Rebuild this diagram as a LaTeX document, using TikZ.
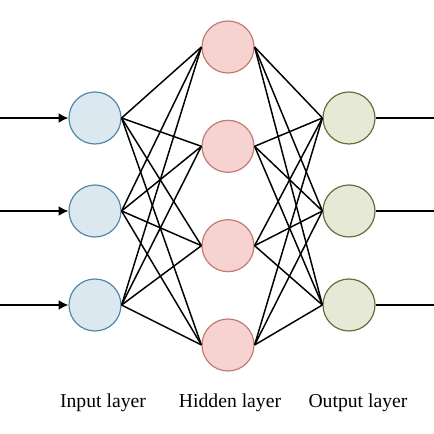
\documentclass[tikz,border=0pt]{standalone}
\usepackage{fontspec}
\setmainfont{Liberation Serif}
\usepackage{tikz}
\usetikzlibrary{arrows.meta}

\definecolor{infill}{HTML}{DCE8F0}
\definecolor{inline}{HTML}{5088A6}
\definecolor{hidfill}{HTML}{F6D3D1}
\definecolor{hidline}{HTML}{C27A74}
\definecolor{outfill}{HTML}{E6E9D6}
\definecolor{outline}{HTML}{6A6B38}

\tikzset{
    neuron/.style={shape=circle, minimum size=1.3cm, inner sep=0pt, line width=0.85pt},
    inneuron/.style={neuron, draw=inline, fill=infill},
    hidneuron/.style={neuron, draw=hidline, fill=hidfill},
    outneuron/.style={neuron, draw=outline, fill=outfill},
    link/.style={draw=black, line width=1.05pt},
    layername/.style={font=\fontsize{14}{16}\selectfont}
}

\begin{document}
\begin{tikzpicture}
        
            \useasboundingbox (0,0) rectangle (10.85,10.85);
        
            \node[inneuron] (I1) at (2.375,7.9) {};
            \node[inneuron] (I2) at (2.375,5.575) {};
            \node[inneuron] (I3) at (2.375,3.225) {};
        
            \node[hidneuron] (H1) at (5.7,9.675) {};
            \node[hidneuron] (H2) at (5.7,7.192) {};
            \node[hidneuron] (H3) at (5.7,4.708) {};
            \node[hidneuron] (H4) at (5.7,2.225) {};
        
            \node[outneuron] (O1) at (8.725,7.9) {};
            \node[outneuron] (O2) at (8.725,5.575) {};
            \node[outneuron] (O3) at (8.725,3.225) {};
        
            \coordinate (A1) at (0,7.9);
            \coordinate (A2) at (0,5.575);
            \coordinate (A3) at (0,3.225);
            \coordinate (B1) at (10.85,7.9);
            \coordinate (B2) at (10.85,5.575);
            \coordinate (B3) at (10.85,3.225);
        
            \draw[link, -{Latex[length=7pt, width=7pt]}] (A1) -- (I1.west);
            \draw[link, -{Latex[length=7pt, width=7pt]}] (A2) -- (I2.west);
            \draw[link, -{Latex[length=7pt, width=7pt]}] (A3) -- (I3.west);
        
            \draw[link] (I1.east) -- (H1.west);
            \draw[link] (I1.east) -- (H2.west);
            \draw[link] (I1.east) -- (H3.west);
            \draw[link] (I1.east) -- (H4.west);
            \draw[link] (I2.east) -- (H1.west);
            \draw[link] (I2.east) -- (H2.west);
            \draw[link] (I2.east) -- (H3.west);
            \draw[link] (I2.east) -- (H4.west);
            \draw[link] (I3.east) -- (H1.west);
            \draw[link] (I3.east) -- (H2.west);
            \draw[link] (I3.east) -- (H3.west);
            \draw[link] (I3.east) -- (H4.west);
        
            \draw[link] (H1.east) -- (O1.west);
            \draw[link] (H1.east) -- (O2.west);
            \draw[link] (H1.east) -- (O3.west);
            \draw[link] (H2.east) -- (O1.west);
            \draw[link] (H2.east) -- (O2.west);
            \draw[link] (H2.east) -- (O3.west);
            \draw[link] (H3.east) -- (O1.west);
            \draw[link] (H3.east) -- (O2.west);
            \draw[link] (H3.east) -- (O3.west);
            \draw[link] (H4.east) -- (O1.west);
            \draw[link] (H4.east) -- (O2.west);
            \draw[link] (H4.east) -- (O3.west);
        
            \draw[link] (O1.east) -- (B1);
            \draw[link] (O2.east) -- (B2);
            \draw[link] (O3.east) -- (B3);
        
            \node[layername] (LI) at (2.575,0.775) {Input layer};
            \node[layername] (LH) at (5.75,0.775) {Hidden layer};
            \node[layername] (LO) at (8.95,0.775) {Output layer};
    
        \end{tikzpicture}
\end{document}
